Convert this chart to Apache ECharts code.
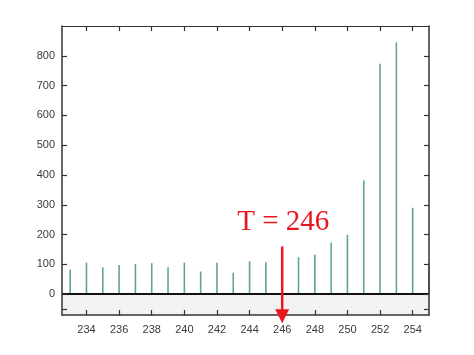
<!DOCTYPE html>
<html>
<head>
<meta charset="utf-8">
<script src="https://cdn.jsdelivr.net/npm/echarts@6/dist/echarts.min.js"></script>
<style>html,body{margin:0;padding:0;background:#fff;}#c{width:474px;height:355px;}</style>
</head>
<body>
<div id="c"></div>
<script>
const positions = [233,234,235,236,237,238,239,240,241,242,243,244,245,246,247,248,249,250,251,252,253,254,255];
const counts    = [83,106,90,98,101,104,90,106,76,105,72,110,107,115,124,133,173,199,382,773,845,290,105];
const xTicks = [234,236,238,240,242,244,246,248,250,252,254];
const yLabels = [0,100,200,300,400,500,600,700,800];
const yTicks = [-50,0,100,200,300,400,500,600,700,800];
const threshold = 246;
const annotation = 'T = 246';

const chart = echarts.init(document.getElementById('c'), null, {renderer:'canvas'});
const axisColor = '#333';
const labelStyle = {color:'#3a3a3a', fontSize:11, fontFamily:'Liberation Sans, Arial, sans-serif'};
const tickStyle = {show:true, inside:true, length:5, lineStyle:{color:axisColor, width:1.2}};
chart.setOption({
  animation:false,
  grid:{left:62, right:45, top:26, bottom:40},
  xAxis:[
    {type:'value', min:232.5, max:255, position:'bottom', z:10,
     axisLine:{show:true, onZero:false, lineStyle:{color:axisColor, width:1.5}},
     axisTick:{...tickStyle, customValues:xTicks},
     axisLabel:{...labelStyle, margin:9, customValues:xTicks},
     splitLine:{show:false}},
    {type:'value', min:232.5, max:255, position:'top', z:10,
     axisLine:{show:true, onZero:false, lineStyle:{color:axisColor, width:1.2}},
     axisTick:{...tickStyle, customValues:xTicks},
     axisLabel:{show:false, customValues:xTicks}, splitLine:{show:false}}
  ],
  yAxis:[
    {type:'value', min:-70, max:900, position:'left', z:10,
     axisLine:{show:true, onZero:false, lineStyle:{color:axisColor, width:1.5}},
     axisTick:{...tickStyle, customValues:yTicks},
     axisLabel:{...labelStyle, margin:7, customValues:yLabels},
     splitLine:{show:false}},
    {type:'value', min:-70, max:900, position:'right', z:10,
     axisLine:{show:true, onZero:false, lineStyle:{color:axisColor, width:1.5}},
     axisTick:{...tickStyle, customValues:yTicks},
     axisLabel:{show:false, customValues:yTicks}, splitLine:{show:false}}
  ],
  series:[{
    type:'bar', xAxisIndex:0, yAxisIndex:0,
    barWidth:1.6,
    data: positions.map((p,i)=>[p, counts[i]]),
    itemStyle:{color:'#5fa596'},
    markArea:{silent:true, itemStyle:{color:'#f2f2f2'},
      data:[[{yAxis:-70},{yAxis:0}]]},
    markLine:{silent:true, symbol:['none','none'], label:{show:false},
      lineStyle:{color:'#111', width:2, type:'solid'},
      data:[{yAxis:0}]}
  }]
});

function drawAnnotation(){
  const top = chart.convertToPixel({xAxisIndex:0, yAxisIndex:0}, [threshold, 160]);
  const tip = chart.convertToPixel({xAxisIndex:0, yAxisIndex:0}, [threshold, -98]);
  const txt = chart.convertToPixel({xAxisIndex:0, yAxisIndex:0}, [threshold, 212]);
  const red = '#e8161f';
  chart.setOption({graphic:[
    {type:'line', shape:{x1:top[0], y1:top[1], x2:tip[0], y2:tip[1]-10}, style:{stroke:red, lineWidth:2.5}, z:100},
    {type:'polygon', shape:{points:[[tip[0]-7, tip[1]-14],[tip[0]+7, tip[1]-14],[tip[0], tip[1]]]}, style:{fill:red}, z:100},
    {type:'text', x:txt[0]+1, y:txt[1]+6, style:{text:annotation, fill:red, font:'29px "Liberation Serif", "Times New Roman", serif', align:'center', verticalAlign:'bottom'}, z:100}
  ]});
}
drawAnnotation();
</script>
</body>
</html>
